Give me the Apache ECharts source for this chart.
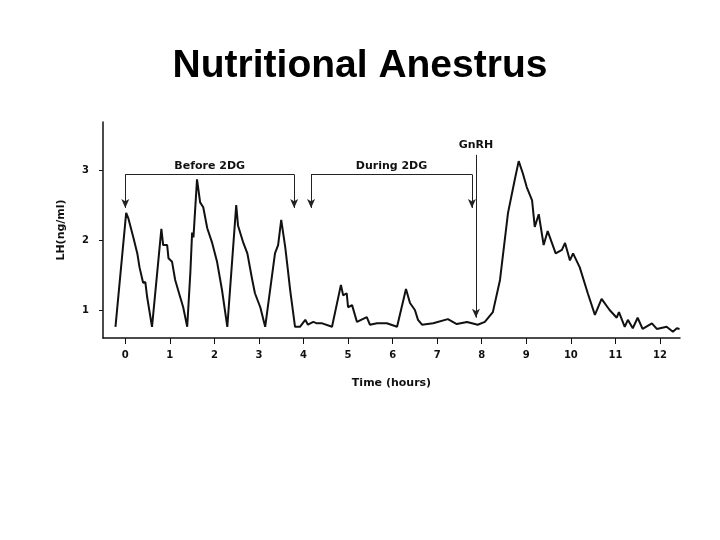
<!DOCTYPE html>
<html><head><meta charset="utf-8">
<script src="https://cdn.jsdelivr.net/npm/echarts@6/dist/echarts.min.js"></script>
<style>html,body{margin:0;background:#fff}#c{width:720px;height:540px}</style>
</head><body><div id="c"></div>
<script>
const hours = [-0.22,0.02,0.07,0.18,0.27,0.32,0.40,0.45,0.49,0.60,0.81,0.85,0.94,0.97,1.05,1.12,1.23,1.30,1.39,1.46,1.50,1.53,1.61,1.68,1.75,1.84,1.95,2.06,2.17,2.29,2.49,2.53,2.65,2.74,2.85,2.91,3.03,3.14,3.36,3.43,3.50,3.59,3.65,3.70,3.81,3.92,4.04,4.10,4.22,4.30,4.42,4.64,4.84,4.89,4.97,5.00,5.09,5.20,5.42,5.49,5.65,5.87,6.10,6.30,6.39,6.50,6.57,6.66,6.91,7.24,7.44,7.67,7.91,8.07,8.25,8.41,8.59,8.74,8.83,8.92,9.01,9.13,9.19,9.28,9.39,9.48,9.66,9.80,9.87,9.98,10.05,10.20,10.38,10.54,10.69,10.87,11.03,11.08,11.21,11.28,11.39,11.50,11.61,11.82,11.93,12.15,12.29,12.38,12.44];
const lh = [0.76,2.39,2.31,2.04,1.81,1.61,1.39,1.40,1.19,0.76,2.16,1.93,1.93,1.74,1.69,1.43,1.19,1.04,0.76,1.53,2.11,2.04,2.87,2.54,2.47,2.17,1.96,1.69,1.29,0.76,2.50,2.21,1.96,1.81,1.43,1.24,1.04,0.76,1.81,1.93,2.29,1.90,1.57,1.29,0.76,0.76,0.86,0.79,0.83,0.81,0.81,0.76,1.36,1.21,1.24,1.04,1.07,0.83,0.90,0.79,0.81,0.81,0.76,1.30,1.10,1.00,0.86,0.79,0.81,0.87,0.80,0.83,0.79,0.83,0.97,1.43,2.39,2.86,3.13,2.96,2.76,2.57,2.19,2.37,1.93,2.13,1.81,1.86,1.96,1.71,1.81,1.61,1.24,0.93,1.16,1.00,0.89,0.97,0.76,0.86,0.74,0.89,0.73,0.81,0.73,0.76,0.69,0.74,0.73];
const xTicks = [0,1,2,3,4,5,6,7,8,9,10,11,12];
const yTicks = [1,2,3];
const labels = {before:'Before 2DG', during:'During 2DG', gnrh:'GnRH'};

const F = 'DejaVu Sans';
const lineStyle = {color:'#222', width:1, type:'solid'};
function seg(a,b,arrowEnd,label){
  const d=[{coord:a,symbol:'none'},{coord:b,symbol:arrowEnd?'arrow':'none',symbolSize:[6,9]}];
  if(label){d[0].label={show:true,position:'insideMiddleTop',formatter:label,color:'#111',fontFamily:F,fontWeight:'bold',fontSize:11,distance:3};}
  return d;
}
const chart = echarts.init(document.getElementById('c'));
chart.setOption({
  animation:false,
  title:{text:'Nutritional Anestrus',left:'center',top:42,textStyle:{fontFamily:'Liberation Sans',fontWeight:'bold',fontSize:39,color:'#000'}},
  grid:{left:103,right:40,top:122,bottom:202},
  xAxis:{type:'value',min:-0.5,max:12.45,name:'Time (hours)',nameLocation:'middle',nameGap:40,
    nameTextStyle:{fontFamily:F,fontWeight:'bold',fontSize:11,color:'#111'},
    axisLine:{onZero:false,lineStyle:{color:'#111',width:1.5}},axisTick:{customValues:xTicks,length:6,lineStyle:{color:'#111'}},
    axisLabel:{customValues:xTicks,fontFamily:F,fontWeight:'bold',fontSize:10,color:'#111',margin:12},splitLine:{show:false}},
  yAxis:{type:'value',min:0.6,max:3.69,name:'LH(ng/ml)',nameLocation:'middle',nameGap:36,
    nameTextStyle:{fontFamily:F,fontWeight:'bold',fontSize:11,color:'#111'},
    axisLine:{show:true,onZero:false,lineStyle:{color:'#111',width:1.5}},axisTick:{show:true,customValues:yTicks,length:4,lineStyle:{color:'#111'}},
    axisLabel:{customValues:yTicks,fontFamily:F,fontWeight:'bold',fontSize:10,color:'#111',margin:14},splitLine:{show:false}},
  series:[{type:'line',data:hours.map((h,i)=>[h,lh[i]]),symbol:'none',lineStyle:{color:'#111',width:2},
    markLine:{silent:true,symbol:'none',lineStyle:lineStyle,label:{show:false},
      data:[
        seg([0,2.94],[0,2.46],true),
        seg([0,2.94],[3.79,2.94],false,labels.before),
        seg([3.79,2.94],[3.79,2.46],true),
        seg([4.17,2.94],[4.17,2.46],true),
        seg([4.17,2.94],[7.78,2.94],false,labels.during),
        seg([7.78,2.94],[7.78,2.46],true),
        seg([7.87,3.22],[7.87,0.89],true)
      ]}}],
  graphic:[]
});
const p = chart.convertToPixel({gridIndex:0},[7.87,3.22]);
chart.setOption({graphic:[{type:'text',x:p[0],y:p[1]-4,style:{text:labels.gnrh,fontFamily:F,fontWeight:'bold',fontSize:11,fill:'#111',align:'center',verticalAlign:'bottom'}}]});
</script></body></html>
